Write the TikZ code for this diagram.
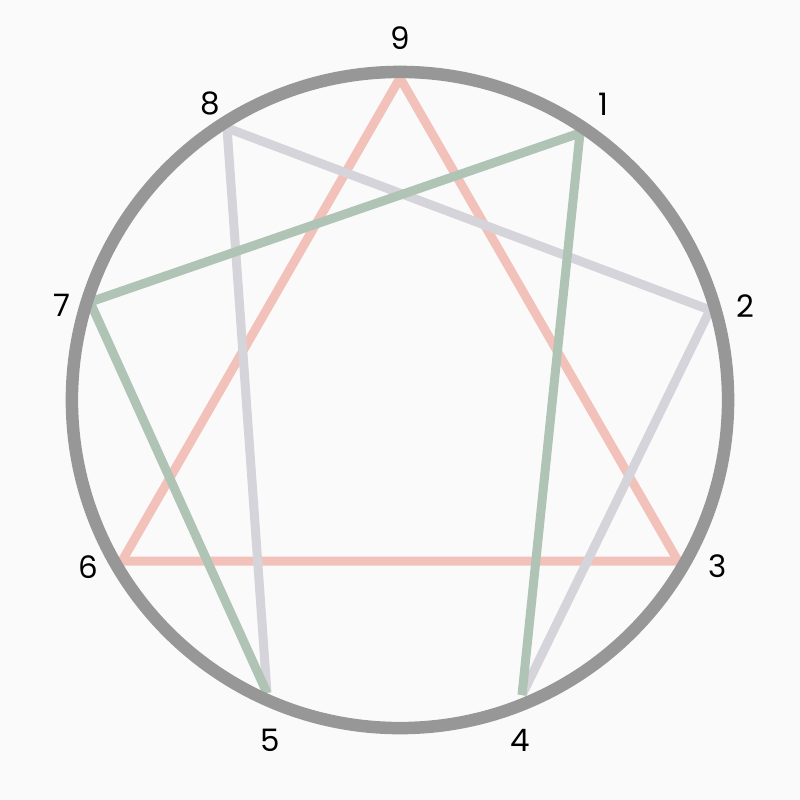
\documentclass[tikz,border=0pt]{standalone}
\usepackage{fontspec}
\setmainfont{Poppins}
\usepackage{tikz}
\definecolor{bgcol}{HTML}{FAFAFA}
\definecolor{ringcol}{HTML}{979797}
\definecolor{triadcol}{HTML}{F2C2BA}
\definecolor{greycol}{HTML}{D4D4DA}
\definecolor{greencol}{HTML}{B0C4B6}

\begin{document}
\begin{tikzpicture}[x=0.0125cm,y=-0.0125cm,
        chord/.style={line width=0.1125cm, line join=miter},
        ring/.style={draw=ringcol, line width=0.156cm},
        num/.style={font=\fontsize{11}{13}\selectfont, inner sep=0pt}]
        \fill[bgcol] (0,0) rectangle (800,800);
        \useasboundingbox (0,0) rectangle (800,800);
        % points on the ring
        \coordinate (p9) at (400,78);
        \coordinate (p1) at (580,133);
        \coordinate (p2) at (710,310);
        \coordinate (p3) at (678,561);
        \coordinate (p4) at (522,695);
        \coordinate (p5) at (267,693);
        \coordinate (p6) at (122,561);
        \coordinate (p7) at (90,302);
        \coordinate (p8) at (227,128);
        \coordinate (c) at (400,400);
        % lines
        \draw[chord, triadcol]  (p9) -- (p3) -- (p6) -- cycle;
        \draw[chord, greycol]   (p4) -- (p2) -- (p8) -- (p5);
        \draw[chord, greencol]  (p5) -- (p7) -- (p1) -- (p4);
        \draw[ring] (c) circle [radius=4.1cm];
        % labels
        \node[num] (n9) at (400,38)  {9};
        \node[num] (n1) at (603,104) {1};
        \node[num] (n2) at (745,306) {2};
        \node[num] (n3) at (718,566) {3};
        \node[num] (n4) at (520,740) {4};
        \node[num] (n5) at (270,740) {5};
        \node[num] (n6) at (88,567)  {6};
        \node[num] (n7) at (62,305)  {7};
        \node[num] (n8) at (210,103) {8};
    \end{tikzpicture}
\end{document}
